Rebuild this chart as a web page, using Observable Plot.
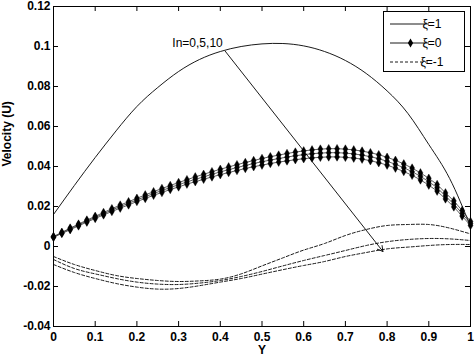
<!DOCTYPE html>
<html><head><meta charset="utf-8">
<script src="https://cdn.jsdelivr.net/npm/d3@7"></script>
<script src="https://cdn.jsdelivr.net/npm/@observablehq/plot@0.6"></script>
<style>
body{margin:0;background:#fff;}
#chart{position:relative;width:474px;height:357px;}
</style>
</head><body><div id="chart"></div>
<script>
// Coarse grid (Y) for xi = 1 and xi = -1 curves
const yCoarse = [0,0.05,0.1,0.15,0.2,0.25,0.3,0.35,0.4,0.45,0.5,0.55,0.6,0.65,0.7,0.75,0.8,0.85,0.9,0.95,1];
const xi1 = [0.016,0.0305,0.0445,0.0578,0.0700,0.0795,0.0875,0.0935,0.0975,0.1000,0.1013,0.1015,0.1003,0.0975,0.0930,0.0865,0.0778,0.0665,0.051,0.034,0.01];
const xim1_In0  = [-0.005,-0.009,-0.012,-0.0145,-0.016,-0.017,-0.0175,-0.0172,-0.0163,-0.0137,-0.0097,-0.0057,-0.0018,0.0015,0.0055,0.0085,0.0105,0.011,0.011,0.0092,0.0063];
const xim1_In5  = [-0.0065,-0.011,-0.0137,-0.016,-0.0178,-0.0188,-0.019,-0.0183,-0.017,-0.015,-0.0125,-0.0097,-0.007,-0.0045,-0.002,0.0005,0.0024,0.0035,0.004,0.0038,0.003];
const xim1_In10 = [-0.009,-0.013,-0.016,-0.0185,-0.0203,-0.0213,-0.021,-0.0196,-0.0178,-0.016,-0.0138,-0.0116,-0.0095,-0.0075,-0.005,-0.003,-0.0012,-0.0003,0.0005,0.001,0.001];

// Fine grid (Y) for xi = 0 curves (with markers)
const yFine = [0,0.02,0.04,0.06,0.08,0.1,0.12,0.14,0.16,0.18,0.2,0.22,0.24,0.26,0.28,0.3,0.32,0.34,0.36,0.38,0.4,0.42,0.44,0.46,0.48,0.5,0.52,0.54,0.56,0.58,0.6,0.62,0.64,0.66,0.68,0.7,0.72,0.74,0.76,0.78,0.8,0.82,0.84,0.86,0.88,0.9,0.92,0.94,0.96,0.98,1];
const xi0_In0 = [0.0050,0.0071,0.0092,0.0112,0.0132,0.0151,0.0170,0.0189,0.0207,0.0224,0.0241,0.0258,0.0274,0.0290,0.0305,0.0320,0.0334,0.0348,0.0361,0.0374,0.0386,0.0398,0.0409,0.0420,0.0430,0.0440,0.0449,0.0457,0.0465,0.0472,0.0478,0.0483,0.0487,0.0489,0.0489,0.0487,0.0483,0.0477,0.0469,0.0459,0.0446,0.0431,0.0413,0.0392,0.0368,0.0341,0.0310,0.0268,0.0228,0.0180,0.0125];
const xi0_In5 = [0.0048,0.0068,0.0088,0.0108,0.0127,0.0146,0.0164,0.0182,0.0200,0.0216,0.0233,0.0249,0.0265,0.0280,0.0295,0.0309,0.0323,0.0336,0.0348,0.0361,0.0373,0.0384,0.0395,0.0405,0.0415,0.0424,0.0432,0.0440,0.0447,0.0454,0.0459,0.0464,0.0467,0.0469,0.0469,0.0467,0.0463,0.0457,0.0449,0.0439,0.0426,0.0411,0.0394,0.0374,0.0351,0.0324,0.0294,0.0252,0.0212,0.0165,0.0115];
const xi0_In10 = [0.0046,0.0065,0.0084,0.0103,0.0122,0.0140,0.0158,0.0175,0.0192,0.0208,0.0225,0.0240,0.0256,0.0270,0.0285,0.0298,0.0312,0.0324,0.0336,0.0348,0.0359,0.0370,0.0380,0.0390,0.0399,0.0407,0.0415,0.0422,0.0428,0.0434,0.0439,0.0443,0.0446,0.0448,0.0448,0.0446,0.0442,0.0437,0.0429,0.0419,0.0407,0.0392,0.0375,0.0356,0.0333,0.0307,0.0277,0.0238,0.0198,0.0152,0.0105];

const xTicks = [0,0.1,0.2,0.3,0.4,0.5,0.6,0.7,0.8,0.9,1];
const xTickLabels = ["0","0.1","0.2","0.3","0.4","0.5","0.6","0.7","0.8","0.9","1"];
const yTicks = [-0.04,-0.02,0,0.02,0.04,0.06,0.08,0.1,0.12];
const yTickLabels = ["-0.04","-0.02","0","0.02","0.04","0.06","0.08","0.1","0.12"];
const legendLabels = ["\u03BE=1","\u03BE=0","\u03BE=-1"];
const annotationText = "In=0,5,10";
const annotationPos = [{x:0.285, y:0.1015}];
const arrowData = [{x1:0.412, y1:0.0976, x2:0.79, y2:-0.0025}];
const xLabel = "Y";
const yLabel = "Velocity (U)";

const toRows = (xs, ys) => xs.map((x,i)=>({Y:x, U:ys[i]}));
const solid = toRows(yCoarse, xi1);
const dashed = [xim1_In0, xim1_In5, xim1_In10].map(a=>toRows(yCoarse,a));
const marked = [xi0_In0, xi0_In5, xi0_In10].map(a=>toRows(yFine,a));

const font = "'Liberation Sans', Arial, sans-serif";
const marks = [];
marks.push(Plot.line(solid, {x:"Y", y:"U", stroke:"black", strokeWidth:0.9, curve:"natural"}));
for (const d of dashed) marks.push(Plot.line(d, {x:"Y", y:"U", stroke:"black", strokeWidth:0.9, strokeDasharray:"3,2", curve:"natural"}));
for (const d of marked) {
  marks.push(Plot.line(d, {x:"Y", y:"U", stroke:"#333", strokeWidth:0.8}));
  marks.push(Plot.dot(d, {x:"Y", y:"U", symbol:"diamond", r:2.6, fill:"black", stroke:"black", strokeWidth:0.4}));
}
marks.push(Plot.arrow(arrowData, {x1:"x1", y1:"y1", x2:"x2", y2:"y2", stroke:"black", strokeWidth:0.9, headLength:10}));
marks.push(Plot.text(annotationPos, {x:"x", y:"y", text:()=>annotationText, textAnchor:"start", fontSize:12, fontWeight:"normal", fill:"black"}));
// inward ticks
marks.push(Plot.ruleX(xTicks, {x:d=>d, y1:-0.04, y2:-0.04+0.0025, stroke:"black"}));
marks.push(Plot.ruleX(xTicks, {x:d=>d, y1:0.12, y2:0.12-0.0025, stroke:"black"}));
marks.push(Plot.ruleY(yTicks, {y:d=>d, x1:0, x2:0.012, stroke:"black"}));
marks.push(Plot.ruleY(yTicks, {y:d=>d, x1:1, x2:0.988, stroke:"black"}));
marks.push(Plot.frame({stroke:"black", strokeWidth:1}));
marks.push(Plot.axisX(xTicks, {tickSize:0, tickPadding:6, tickFormat:d=>xTickLabels[xTicks.indexOf(d)], fontSize:12, fontWeight:"bold", label:null}));
marks.push(Plot.axisY(yTicks, {tickSize:0, tickPadding:3, tickFormat:d=>yTickLabels[yTicks.indexOf(d)], fontSize:12, fontWeight:"bold", label:null}));
marks.push(Plot.text([xLabel], {frameAnchor:"bottom", lineAnchor:"middle", dy:24, fontSize:12, fontWeight:"bold", fill:"black"}));
marks.push(Plot.text([yLabel], {frameAnchor:"left", lineAnchor:"middle", dx:-46, rotate:-90, fontSize:12, fontWeight:"bold", fill:"black"}));

const chart = Plot.plot({
  width:474, height:357,
  marginTop:6, marginRight:4, marginBottom:31, marginLeft:53,
  x:{domain:[0,1]},
  y:{domain:[-0.04,0.12]},
  style:{fontFamily:font, color:"black", background:"white", overflow:"visible"},
  marks
});
document.getElementById("chart").appendChild(chart);

// legend box (inside plot, top-right)
const svg = d3.select(chart);
const g = svg.append("g").attr("font-family", font).attr("font-size", 12);
g.append("rect").attr("x",383.5).attr("y",11.5).attr("width",81).attr("height",60).attr("fill","white").attr("stroke","black");
const rowsY = [24, 43, 62];
legendLabels.forEach((lab,i)=>{
  const y = rowsY[i];
  const ln = g.append("line").attr("x1",390).attr("x2",429).attr("y1",y).attr("y2",y).attr("stroke","black").attr("stroke-width",0.9);
  if (i===2) ln.attr("stroke-dasharray","3,2");
  if (i===1) g.append("path").attr("d", d3.symbol(d3.symbolDiamond, 24)()).attr("transform",`translate(410.5,${y})`).attr("fill","black");
  g.append("text").attr("x",432).attr("y",y).attr("dy","0.35em").attr("fill","black").text(lab);
});
</script>
</body></html>
